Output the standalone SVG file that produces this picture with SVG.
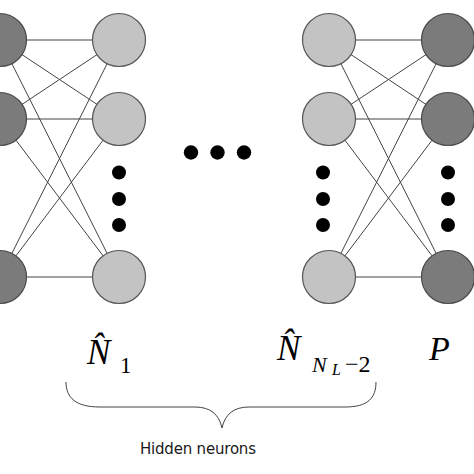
<svg xmlns="http://www.w3.org/2000/svg" width="474" height="474" viewBox="0 0 474 474">
<style>
.dark{fill:#7b7b7b;stroke:#4a4a4a;stroke-width:1.2}
.light{fill:#c3c3c3;stroke:#555;stroke-width:1.2}
.dot{fill:#000}
.e{stroke:#444;stroke-width:1;fill:none}
.m{font-family:"Liberation Serif","Times New Roman",serif;font-style:italic;fill:#000}
.s{font-family:"DejaVu Sans",sans-serif;font-size:15px;fill:#1a1a1a}
</style>
<rect width="474" height="474" fill="#fff"/>
<g id="connectors">
<path class="e" d="M0 40L119 40M0 40L119 119M0 40L119 277M0 119L119 40M0 119L119 119M0 119L119 277M0 277L119 40M0 277L119 119M0 277L119 277"/>
<path class="e" d="M329 40L448 40M329 40L448 119M329 40L448 277M329 119L448 40M329 119L448 119M329 119L448 277M329 277L448 40M329 277L448 119M329 277L448 277"/>
</g>
<g id="input-layer">
<circle class="dark" cx="0" cy="40" r="26.5"/>
<circle class="dark" cx="0" cy="119" r="26.5"/>
<circle class="dark" cx="0" cy="277" r="26.5"/>
</g>
<g id="hidden-layer-1">
<circle class="light" cx="119" cy="40" r="26.5"/>
<circle class="light" cx="119" cy="119" r="26.5"/>
<circle class="light" cx="119" cy="277" r="26.5"/>
<circle class="dot" cx="119" cy="172.5" r="7"/>
<circle class="dot" cx="119" cy="199" r="7"/>
<circle class="dot" cx="119" cy="225" r="7"/>
</g>
<g id="ellipsis">
<circle class="dot" cx="191" cy="152.5" r="7.2"/>
<circle class="dot" cx="217.5" cy="152.5" r="7.2"/>
<circle class="dot" cx="244" cy="152.5" r="7.2"/>
</g>
<g id="hidden-layer-last">
<circle class="light" cx="329" cy="40" r="26.5"/>
<circle class="light" cx="329" cy="119" r="26.5"/>
<circle class="light" cx="329" cy="277" r="26.5"/>
<circle class="dot" cx="323" cy="172.5" r="7"/>
<circle class="dot" cx="323" cy="199" r="7"/>
<circle class="dot" cx="323" cy="225" r="7"/>
</g>
<g id="output-layer">
<circle class="dark" cx="448" cy="40" r="26.5"/>
<circle class="dark" cx="448" cy="119" r="26.5"/>
<circle class="dark" cx="448" cy="277" r="26.5"/>
<circle class="dot" cx="448" cy="172.5" r="7"/>
<circle class="dot" cx="448" cy="199" r="7"/>
<circle class="dot" cx="448" cy="225" r="7"/>
</g>
<g id="labels">
<text class="m" x="87" y="364" font-size="35">N̂<tspan font-style="normal" font-size="23" x="120" y="373">1</tspan></text>
<text class="m" x="277" y="360" font-size="35">N̂<tspan font-size="22" x="312" y="372">N</tspan><tspan font-size="16" x="332" y="375">L</tspan><tspan font-style="normal" font-size="24" x="345" y="372">−2</tspan></text>
<text class="m" x="429" y="360" font-size="34">P</text>
</g>
<g id="brace">
<path class="e" d="M66 382C66 398 76 407 100 407L195 407C210 407 219 414 222 428C225 414 234 407 249 407L345 407C368 407 376 398 376 382"/>
<text class="s" x="140" y="454" textLength="116">Hidden neurons</text>
</g>
</svg>
